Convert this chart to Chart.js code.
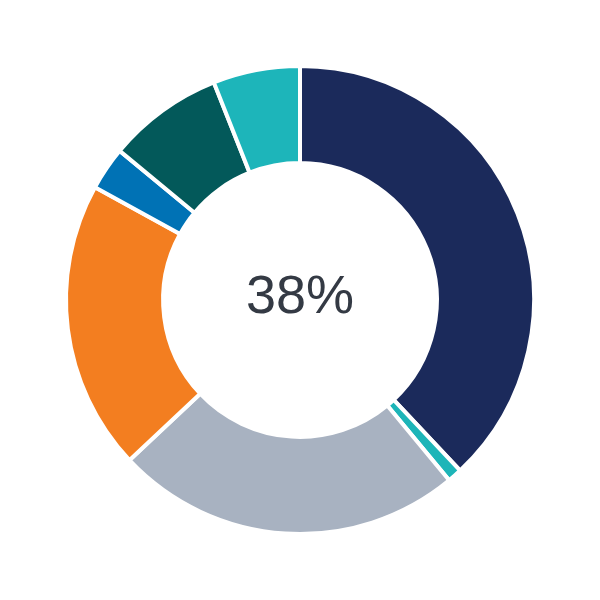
<!DOCTYPE html>
<html>
<head>
<meta charset="utf-8">
<script src="https://cdn.jsdelivr.net/npm/chart.js@4.4.0/dist/chart.umd.min.js"></script>
<style>
html,body{margin:0;padding:0;background:#fff;}
#wrap{width:600px;height:600px;position:relative;}
</style>
</head>
<body>
<div id="wrap"><canvas id="c" width="600" height="600"></canvas></div>
<script>
const categories = ["A", "B", "C", "D", "E", "F", "G"];
const values = [38, 1, 24, 20, 3, 8, 6];
const colors = ["#1B2A5B", "#1DB5B8", "#A8B2C1", "#F37E20", "#0072B5", "#03595A", "#1DB5BA"];
const centerLabel = "38%";

const centerText = {
  id: 'centerText',
  afterDraw(chart) {
    const ctx = chart.ctx;
    const meta = chart.getDatasetMeta(0);
    const arc = meta.data[0];
    ctx.save();
    ctx.font = '400 54px "Liberation Sans", Arial, sans-serif';
    ctx.fillStyle = '#343A44';
    ctx.textAlign = 'center';
    ctx.textBaseline = 'middle';
    ctx.fillText(centerLabel, arc.x, arc.y - 2);
    ctx.restore();
  }
};

new Chart(document.getElementById('c'), {
  type: 'doughnut',
  data: {
    labels: categories,
    datasets: [{
      data: values,
      backgroundColor: colors,
      borderColor: '#ffffff',
      borderWidth: 4,
      hoverOffset: 0
    }]
  },
  options: {
    responsive: false,
    animation: false,
    cutout: '58.5%',
    layout: { padding: 64 },
    plugins: {
      legend: { display: false },
      tooltip: { enabled: false }
    }
  },
  plugins: [centerText]
});
</script>
</body>
</html>
